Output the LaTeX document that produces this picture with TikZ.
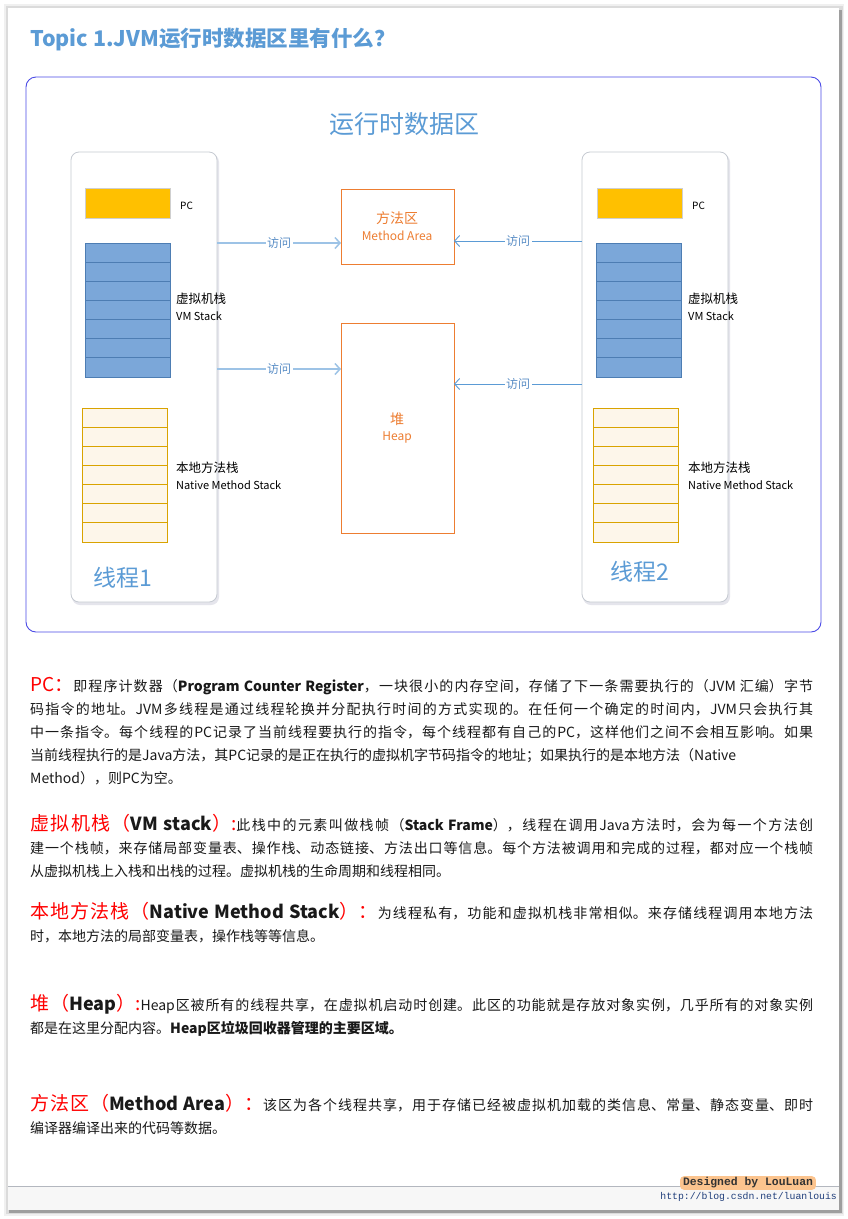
\documentclass[tikz,border=0pt]{standalone}
\usepackage{fontspec}
\setmainfont{Noto Sans CJK SC}
\newfontfamily\monofont{Liberation Mono}
\usetikzlibrary{arrows.meta,calc}
\XeTeXlinebreaklocale "zh"
\XeTeXlinebreakskip=0pt plus 2pt
\definecolor{titleblue}{HTML}{5B9BD5}
\definecolor{framecol}{HTML}{4B4BE6}
\definecolor{threadcol}{HTML}{C5CAD1}
\definecolor{pcfill}{HTML}{FFC000}
\definecolor{pcline}{HTML}{CFCFCF}
\definecolor{vmfill}{HTML}{7BA7D9}
\definecolor{vmline}{HTML}{4D7DB3}
\definecolor{nmfill}{HTML}{FDF6EA}
\definecolor{nmline}{HTML}{D9A300}
\definecolor{orangec}{HTML}{ED7D31}
\definecolor{arrL}{HTML}{9DC3E6}
\definecolor{arrR}{HTML}{5B9BD5}
\definecolor{lblblue}{HTML}{5A8EC6}
\definecolor{urlblue}{HTML}{1F3D7A}
\definecolor{footgray}{HTML}{F7F7F7}
\definecolor{footline}{HTML}{B3B7BF}
\definecolor{glow}{HTML}{FCC48E}
\newcommand\redh[1]{{\color{red}\fontsize{19}{23}\selectfont #1}}
\newcommand\blkh[1]{{\fontsize{18}{23}\selectfont\bfseries #1}}
\begin{document}
\begin{tikzpicture}[x=1pt,y=-1pt,
  box/.style={anchor=north west,inner sep=0,outer sep=0},
  thread/.style={box,draw=threadcol,line width=0.8,fill=white,rounded corners=8,minimum width=146,minimum height=450},
  pcbox/.style={box,draw=pcline,fill=pcfill,line width=0.8,minimum width=85,minimum height=30},
  vmbox/.style={box,draw=vmline,fill=vmfill,line width=1,minimum width=85,minimum height=134},
  nmbox/.style={box,draw=nmline,fill=nmfill,line width=1,minimum width=85,minimum height=134},
  areabox/.style={box,draw=orangec,line width=0.9,minimum width=113},
  areatxt/.style={text=orangec,inner sep=0},
  lbl/.style={anchor=west,inner sep=0,text=black},
  thr/.style={anchor=west,inner sep=0,text=titleblue,font=\fontsize{23}{26}\selectfont},
  accL/.style={draw=arrL,line width=1.5,-{Straight Barb[length=5pt,width=11pt]}},
  accR/.style={draw=arrR,line width=0.9,-{Straight Barb[length=5pt,width=11pt]}},
  acclbl/.style={fill=white,inner sep=1.5,text=lblblue,font=\fontsize{12}{13}\selectfont},
  para/.style={anchor=north west,inner sep=0,text width=783pt,align=justify,font=\fontsize{14}{23}\selectfont,text=black!90}
]
\useasboundingbox (0,0) rectangle (848,1219);
\fill[white] (0,0) rectangle (848,1219);
% paper shadow
\fill[black!6] (4,4) rectangle (844,1216);
\fill[black!14] (6,6) rectangle (843,1214);
\fill[black!38] (9,10) rectangle (842,1213);
\fill[white] (8,8) rectangle (839,1210);
\fill[footgray] (8,1187) rectangle (839,1210);
\draw[footline,line width=1] (8,1186.5) -- (839,1186.5);

% title
\node[anchor=west,inner sep=0,text=titleblue,font=\bfseries\fontsize{21.5}{24}\selectfont] (title) at (30,40) {Topic 1.JVM运行时数据区里有什么？};

% frame
\node[box,draw=framecol,line width=0.9,rounded corners=10,minimum width=795,minimum height=555] (frame) at (26,77) {};
\node[inner sep=0,text=titleblue,font=\fontsize{25}{28}\selectfont] (rtitle) at (404,124) {运行时数据区};

% thread shadows
\fill[blue!25!black!10,rounded corners=8] (72,154) rectangle (219,605);
\fill[blue!25!black!10,rounded corners=8] (583,154) rectangle (730,605);

% thread 1
\node[thread] (t1) at (71,152) {};
\node[pcbox] (pc1) at (85,188) {};
\node[vmbox] (vm1) at (85,243) {};
\node[nmbox] (nm1) at (82,408) {};
\foreach \i in {1,...,6}{
  \draw[vmline,line width=1] ($(vm1.north west)!\i/7!(vm1.south west)$) -- ($(vm1.north east)!\i/7!(vm1.south east)$);
  \draw[nmline,line width=1] ($(nm1.north west)!\i/7!(nm1.south west)$) -- ($(nm1.north east)!\i/7!(nm1.south east)$);
}
\node[lbl,font=\fontsize{10}{12}\selectfont] (pcl1) at (180,206) {PC};
\node[lbl,font=\fontsize{12.5}{14}\selectfont] (vml1a) at (176,299) {虚拟机栈};
\node[lbl,font=\fontsize{11}{13}\selectfont] (vml1b) at (176,316) {VM Stack};
\node[lbl,font=\fontsize{12.5}{14}\selectfont] (nml1a) at (176,468) {本地方法栈};
\node[lbl,font=\fontsize{11}{13}\selectfont] (nml1b) at (176,485) {Native Method Stack};
\node[thr] (th1) at (93,578) {线程1};

% thread 2
\node[thread] (t2) at (582,152) {};
\node[pcbox] (pc2) at (597,188) {};
\node[vmbox] (vm2) at (596,243) {};
\node[nmbox] (nm2) at (593,408) {};
\foreach \i in {1,...,6}{
  \draw[vmline,line width=1] ($(vm2.north west)!\i/7!(vm2.south west)$) -- ($(vm2.north east)!\i/7!(vm2.south east)$);
  \draw[nmline,line width=1] ($(nm2.north west)!\i/7!(nm2.south west)$) -- ($(nm2.north east)!\i/7!(nm2.south east)$);
}
\node[lbl,font=\fontsize{10}{12}\selectfont] (pcl2) at (692,206) {PC};
\node[lbl,font=\fontsize{12.5}{14}\selectfont] (vml2a) at (688,299) {虚拟机栈};
\node[lbl,font=\fontsize{11}{13}\selectfont] (vml2b) at (688,316) {VM Stack};
\node[lbl,font=\fontsize{12.5}{14}\selectfont] (nml2a) at (688,468) {本地方法栈};
\node[lbl,font=\fontsize{11}{13}\selectfont] (nml2b) at (688,485) {Native Method Stack};
\node[thr] (th2) at (610,572) {线程2};

% shared areas
\node[areabox,minimum height=75] (ma) at (341,189) {};
\node[areatxt,font=\fontsize{14}{16}\selectfont] (mat1) at (397,218) {方法区};
\node[areatxt,font=\fontsize{12}{14}\selectfont] (mat2) at (397,236) {Method Area};
\node[areabox,minimum height=210] (hp) at (341,323) {};
\node[areatxt,font=\fontsize{14}{16}\selectfont] (hpt1) at (397,419) {堆};
\node[areatxt,font=\fontsize{12}{14}\selectfont] (hpt2) at (397,437) {Heap};

% connectors
\coordinate (yA) at (0,243);
\coordinate (yB) at (0,369);
\coordinate (yC) at (0,241);
\coordinate (yD) at (0,384);
\draw[accL] (t1.east |- yA) -- node[acclbl] (la) {访问} (ma.west |- yA);
\draw[accL] (t1.east |- yB) -- node[acclbl] (lb) {访问} (hp.west |- yB);
\draw[accR] (t2.west |- yC) -- node[acclbl] (lc) {访问} (ma.east |- yC);
\draw[accR] (t2.west |- yD) -- node[acclbl] (ld) {访问} (hp.east |- yD);

% paragraphs
\node[para] (p1) at (30,674.5) {\tolerance=10000\rule{0pt}{17pt}\redh{PC：}即程序计数器（\textbf{Program Counter Register}，一块很小的内存空间，存储了下一条需要执行的（JVM 汇编）字节\linebreak
码指令的地址。JVM多线程是通过线程轮换并分配执行时间的方式实现的。在任何一个确定的时间内，JVM只会执行其\linebreak
中一条指令。每个线程的PC记录了当前线程要执行的指令，每个线程都有自己的PC，这样他们之间不会相互影响。如果\linebreak
当前线程执行的是Java方法，其PC记录的是正在执行的虚拟机字节码指令的地址；如果执行的是本地方法（Native\newline
Method），则PC为空。};

\node[para] (p2) at (30,813.5) {\tolerance=10000\rule{0pt}{17pt}\redh{虚拟机栈（}\blkh{VM stack}\redh{）:}此栈中的元素叫做栈帧（\textbf{Stack Frame}），线程在调用Java方法时，会为每一个方法创\linebreak
建一个栈帧，来存储局部变量表、操作栈、动态链接、方法出口等信息。每个方法被调用和完成的过程，都对应一个栈帧\linebreak
从虚拟机栈上入栈和出栈的过程。虚拟机栈的生命周期和线程相同。};

\node[para] (p3) at (30,901.5) {\tolerance=10000\rule{0pt}{17pt}\redh{本地方法栈（}\blkh{Native Method Stack}\redh{）：}为线程私有，功能和虚拟机栈非常相似。来存储线程调用本地方法\linebreak
时，本地方法的局部变量表，操作栈等等信息。};

\node[para] (p4) at (30,993.5) {\tolerance=10000\rule{0pt}{17pt}\redh{堆（}\blkh{Heap}\redh{）:}Heap区被所有的线程共享，在虚拟机启动时创建。此区的功能就是存放对象实例，几乎所有的对象实例\linebreak
都是在这里分配内容。\textbf{Heap区垃圾回收器管理的主要区域。}};

\node[para] (p5) at (30,1093.5) {\tolerance=10000\rule{0pt}{17pt}\redh{方法区（}\blkh{Method Area}\redh{）：}该区为各个线程共享，用于存储已经被虚拟机加载的类信息、常量、静态变量、即时\linebreak
编译器编译出来的代码等数据。};

% footer
\node[fill=glow,rounded corners=4,inner xsep=3,inner ysep=1.5,text=black!80,font=\monofont\bfseries\fontsize{11.4}{13}\selectfont] (design) at (748,1183) {Designed by LouLuan};
\node[anchor=east,inner sep=0,text=urlblue,font=\monofont\fontsize{9.8}{12}\selectfont] (url) at (837,1197) {http://blog.csdn.net/luanlouis};
\end{tikzpicture}
\end{document}
